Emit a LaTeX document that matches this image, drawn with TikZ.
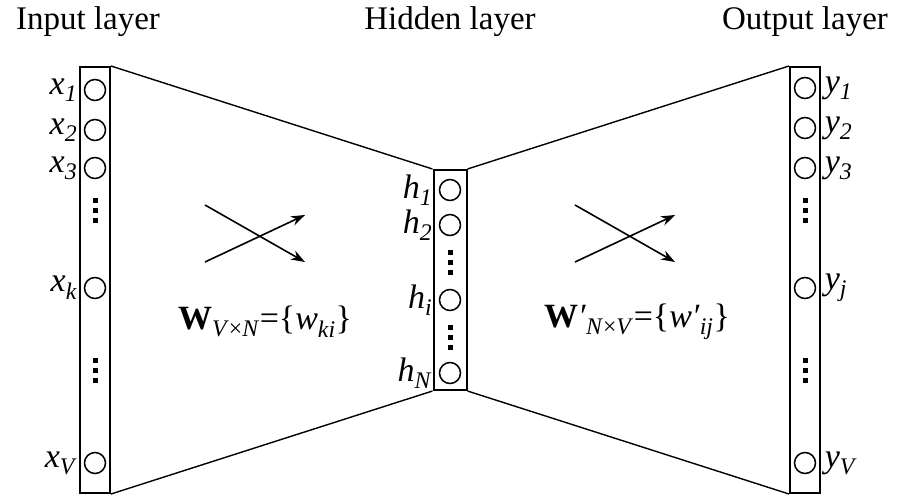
\documentclass[tikz,border=0pt]{standalone}
\usepackage{fontspec}
\setmainfont{Liberation Serif}
\usetikzlibrary{arrows.meta, positioning}

\newcommand{\vr}[2]{\textit{#1}\textsubscript{\textit{#2}}}

\tikzset{
  bar/.style={draw, line width=2pt, minimum width=30pt, inner sep=0pt},
  unit/.style={circle, draw, line width=1.5pt, minimum size=21pt, inner sep=0pt},
  lbl/.style={font=\fontsize{34}{36}\selectfont},
  title/.style={font=\fontsize{33}{35}\selectfont},
  dotsq/.style={fill, minimum width=5pt, minimum height=5pt, inner sep=0pt},
  wire/.style={line width=1.4pt},
  cross/.style={line width=1.6pt, -{Stealth[length=14pt, width=10pt]}}
}

\begin{document}
\begin{tikzpicture}[x=1pt, y=-1pt]
    \useasboundingbox (0,0) rectangle (907,501);

    %titles
    \node (tin) [title] at (88,22) {Input layer};
    \node (thid) [title] at (450,22) {Hidden layer};
    \node (tout) [title] at (805,22) {Output layer};

    %bars
    \node (bin) [bar, minimum height=426pt] at (95,280) {};
    \node (bhid) [bar, minimum width=33pt, minimum height=220pt] at (450,280) {};
    \node (bout) [bar, minimum height=426pt] at (805,280) {};

    %input units
    \foreach \y/\s [count=\i] in {90/1, 130/2, 168/3, 288/k, 463/V} {
      \node (in\i) [unit] at (95,\y) {};
      \node [lbl, left=3pt of in\i] {\vr{x}{\s}};
    }
    %output units
    \foreach \y/\s [count=\i] in {88/1, 128/2, 168/3, 288/j, 463/V} {
      \node (out\i) [unit] at (805,\y) {};
      \node [lbl, right=5pt of out\i] {\vr{y}{\s}};
    }
    %hidden units
    \foreach \y/\s [count=\i] in {190/1, 225/2, 300/i, 373/N} {
      \node (hid\i) [unit] at (450,\y) {};
      \node [lbl, left=3pt of hid\i] {\vr{h}{\s}};
    }

    %vertical dots
    \foreach \x/\y in {95/210, 95/370, 805/210, 805/370, 450/262, 450/337} {
      \foreach \d in {-10,0,10} {
        \node [dotsq] at (\x,\y+\d) {};
      }
    }

    %connections between layers
    \draw [wire] (bin.north east) -- (bhid.north west);
    \draw [wire] (bin.south east) -- (bhid.south west);
    \draw [wire] (bhid.north east) -- (bout.north west);
    \draw [wire] (bhid.south east) -- (bout.south west);

    %crossed arrows
    \coordinate (la1) at (205,205); \coordinate (la2) at (305,262);
    \coordinate (lb1) at (205,262); \coordinate (lb2) at (305,215);
    \coordinate (ra1) at (575,205); \coordinate (ra2) at (675,262);
    \coordinate (rb1) at (575,262); \coordinate (rb2) at (675,215);
    \draw [cross] (la1) -- (la2);
    \draw [cross] (lb1) -- (lb2);
    \draw [cross] (ra1) -- (ra2);
    \draw [cross] (rb1) -- (rb2);

    %weights
    \node (win) [lbl] at (265,322) {\textbf{W}\textsubscript{\textit{V}×\textit{N}}=\{\textit{w}\textsubscript{\textit{ki}}\}};
    \node (wout) [lbl] at (637,322) {\textbf{W}\textit{′}\textsubscript{\textit{N}×\textit{V}}=\{\textit{w′}\textsubscript{\textit{ij}}\}};
\end{tikzpicture}
\end{document}
